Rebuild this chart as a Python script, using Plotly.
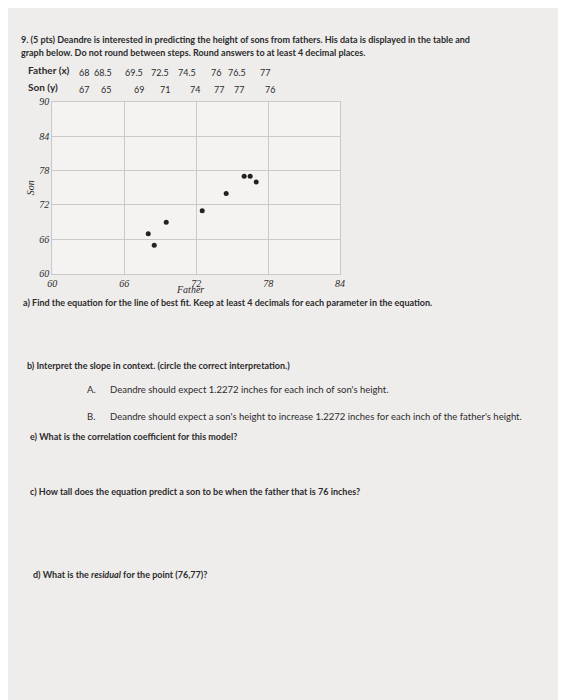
import plotly.graph_objects as go

# data from the worksheet table
father = [68, 68.5, 69.5, 72.5, 74.5, 76, 76.5, 77]
son = [67, 65, 69, 71, 74, 77, 77, 76]
tick_vals = [60, 66, 72, 78, 84]
y_tick_vals = [60, 66, 72, 78, 84, 90]

W, H = 566, 700
FONT = "Lato"
INK = "#2b2b2b"
SERIF = "Liberation Serif"


def px_x(x):
    return x / W


def px_y(y):
    return 1 - y / H


fig = go.Figure()
fig.add_trace(go.Scatter(x=father, y=son, mode="markers",
                         marker=dict(color="#222", size=5), showlegend=False))

ann = []


def text(x, y, s, size=9.5, anchor="left", family=FONT, italic=False):
    ann.append(dict(x=px_x(x), y=px_y(y), xref="paper", yref="paper", text=s,
                    showarrow=False, xanchor=anchor, yanchor="middle",
                    font=dict(family=family, size=size, color=INK,
                              style="italic" if italic else "normal")))


text(6, 27, "<b>9. (5 pts) Deandre is interested in predicting the height of sons from fathers. His data is displayed in the table and</b>", 9)
text(6, 40, "<b>graph below. Do not round between steps. Round answers to at least 4 decimal places.</b>", 9)
text(13, 58, "<b>Father (x)</b>", 10)
text(13, 75, "<b>Son (y)</b>", 10)
fx = [72, 92, 123, 150, 177, 207, 228, 257]
sx = [72, 95, 128, 155, 185, 210, 230, 262]
for x, v in zip(fx, father):
    text(x, 60, str(v), 9, "center")
for x, v in zip(sx, son):
    text(x, 78, str(v), 9, "center")

text(180, 281, "Father", 10, "center", SERIF, True)
text(8, 294, "<b>a) Find the equation for the line of best fit. Keep at least 4 decimals for each parameter in the equation.</b>", 9)
text(12, 358, "<b>b) Interpret the slope in context. (circle the correct interpretation.)</b>", 9)
text(73, 383, "A.", 9.5)
text(97, 383, "Deandre should expect 1.2272 inches for each inch of son's height.", 9.5)
text(73, 410, "B.", 9.5)
text(97, 410, "Deandre should expect a son's height to increase 1.2272 inches for each inch of the father's height.", 9.5)
text(15, 430, "<b>e) What is the correlation coefficient for this model?</b>", 9)
text(15, 486, "<b>c) How tall does the equation predict a son to be when the father that is 76 inches?</b>", 9)
text(18, 570, "<b>d) What is the <i>residual</i> for the point (76,77)?</b>", 9)

fig.update_layout(
    width=W, height=H,
    margin=dict(l=0, r=0, t=0, b=0),
    paper_bgcolor="#efedeb", plot_bgcolor="#f4f3f1",
    annotations=ann,
    xaxis=dict(domain=[px_x(40), px_x(333)], range=[60, 84], tickvals=tick_vals,
               showgrid=True, gridcolor="#c9c9c9", zeroline=False,
               showline=True, linecolor="#c9c9c9", mirror=True,
               tickfont=dict(family=SERIF, size=10, style="italic", color=INK)),
    yaxis=dict(domain=[px_y(265), px_y(90)], range=[60, 90], tickvals=y_tick_vals,
               showgrid=True, gridcolor="#c9c9c9", zeroline=False,
               showline=True, linecolor="#c9c9c9", mirror=True,
               tickfont=dict(family=SERIF, size=10, style="italic", color=INK),
               title=dict(text="Son", standoff=2,
                          font=dict(family=SERIF, size=10, style="italic", color=INK))),
)

fig.write_html("out.html")
